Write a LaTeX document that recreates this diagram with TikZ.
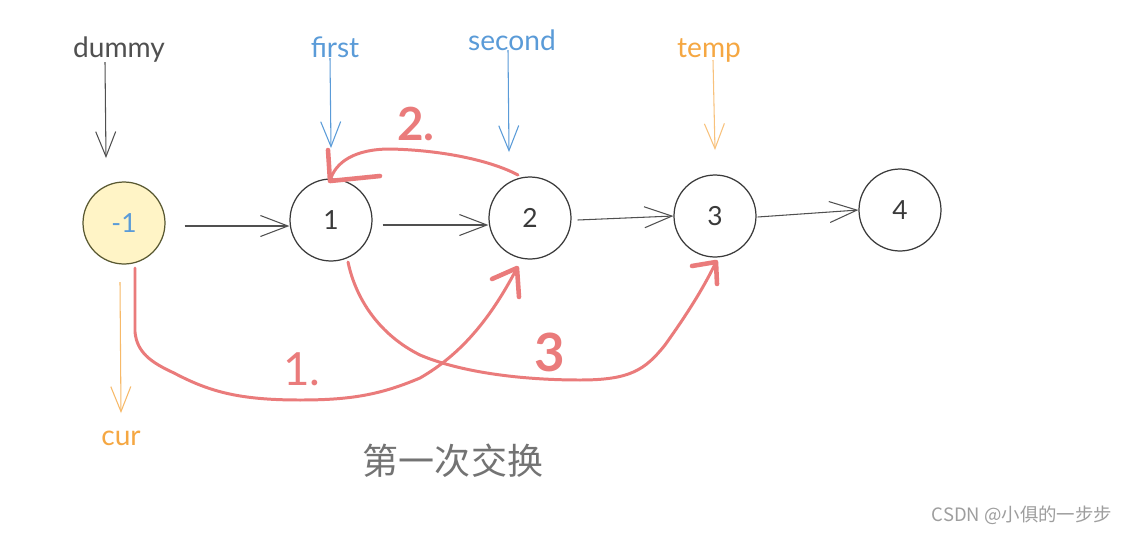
\documentclass[tikz,border=0pt]{standalone}
\usepackage{fontspec}
\setmainfont{Lato}
\newfontfamily\cjk{Noto Sans CJK SC}
\usetikzlibrary{arrows.meta}
\definecolor{nodeline}{HTML}{3A3A3A}
\definecolor{yel}{HTML}{FFF4C6}
\definecolor{blu}{HTML}{5A9BD8}
\definecolor{org}{HTML}{F5A742}
\definecolor{redc}{HTML}{EA7B7B}
\definecolor{dk}{HTML}{505050}
\begin{document}
\begin{tikzpicture}[x=0.02cm,y=-0.02cm,
  circ/.style={circle,draw=nodeline,line width=0.7pt,minimum size=1.64cm,inner sep=0pt,
    font=\fontsize{15}{17}\selectfont,text=nodeline},
  lbl/.style={inner sep=0pt,font=\fontsize{16}{18}\selectfont},
  link/.style={draw=dk,line width=0.6pt,-{Straight Barb[length=0.55cm,width=0.42cm,line width=0.6pt]}},
  ptr/.style={line width=0.6pt,-{Straight Barb[length=0.5cm,width=0.4cm,line width=0.6pt]}},
  redl/.style={draw=redc,line width=1.7pt,line cap=round,line join=round},
  redh/.style={draw=redc,line width=2.6pt,line cap=round,line join=round},
  num/.style={inner sep=0pt,text=redc}]
\useasboundingbox (0,0) rectangle (1134,535);
\fill[white] (0,0) rectangle (1134,535);

% nodes
\node[circ,fill=yel,draw=nodeline!85!yellow,text=blu] (nm1) at (124,223) {-1};
\node[circ] (n1) at (331,220) {1};
\node[circ] (n2) at (530,218) {2};
\node[circ] (n3) at (715,216) {3};
\node[circ] (n4) at (900,210) {4};

% next links
\draw[link] (nm1.east) ++(19,3) coordinate (a0) -- (n1.west|-a0);
\draw[link] (n1.east) ++(10,5) coordinate (a1) -- (n2.west|-a1);
\draw[link] (n2.east) ++(6,2) -- (n3.west);
\draw[link] (n3.east) ++(1,1) -- (n4.west);

% pointer labels
\node[lbl,text=dk] (dummy) at (119,50) {dummy};
\node[lbl,text=blu] (first) at (335,47) {first};
\node[lbl,text=blu] (second) at (512,40) {second};
\node[lbl,text=org] (temp) at (709,50) {temp};
\node[lbl,text=org] (cur) at (121,438) {cur};

\coordinate (dtop) at (105,62);   \coordinate (dend) at (106,158);
\coordinate (ftop) at (330,58);   \coordinate (fend) at (331,148);
\coordinate (stop) at (508,50);   \coordinate (send) at (509,152);
\coordinate (ttop) at (713,60);   \coordinate (tend) at (715,150);
\coordinate (ctop) at (120,282);  \coordinate (cend) at (121,413);
\draw[ptr,draw=dk] (dtop) -- (dend);
\draw[ptr,draw=blu] (ftop) -- (fend);
\draw[ptr,draw=blu] (stop) -- (send);
\draw[ptr,draw=org!70] (ttop) -- (tend);
\draw[ptr,draw=org!80] (ctop) -- (cend);

% red step 1: dummy -> 2
\coordinate (r1s) at (135,268);
\coordinate (r1e) at (517,268);
\draw[redl] (r1s) -- (135,332) .. controls (137,352) and (150,362) .. (174,373)
  .. controls (210,392) and (240,400) .. (300,400)
  .. controls (350,400) and (380,395) .. (420,378)
  .. controls (460,355) and (490,320) .. (r1e);
\draw[redh] (492,279) -- (r1e) -- (519,297);
\node[num,font=\fontsize{26}{28}\selectfont] (l1) at (302,369) {1.};

% red step 2: 2 -> first
\coordinate (r2s) at (518,175);
\coordinate (r2e) at (330,181);
\draw[redl] (r2s) .. controls (490,160) and (440,150) .. (390,149)
  .. controls (355,149) and (335,162) .. (r2e);
\draw[redh] (328,150) -- (r2e) -- (380,176);
\node[num,font=\bfseries\fontsize{26}{28}\selectfont] (l2) at (416,124) {2.};

% red step 3: 1 -> 3
\coordinate (r3s) at (348,262);
\coordinate (r3e) at (716,262);
\draw[redl] (r3s) .. controls (356,300) and (380,335) .. (420,355)
  .. controls (460,372) and (520,380) .. (580,380)
  .. controls (630,380) and (645,370) .. (665,345)
  .. controls (690,310) and (705,285) .. (r3e);
\draw[redh] (692,266) -- (r3e) -- (717,284);
\node[num,font=\bfseries\fontsize{30}{32}\selectfont] (l3) at (550,352) {3};

% title and watermark
\node[inner sep=0pt,text=black!55,font=\cjk\fontsize{20.5}{24}\selectfont] (title) at (453,461) {第一次交换};
\node[inner sep=0pt,text=black!38,font=\cjk\fontsize{10.5}{12}\selectfont] (wm) at (1022,515) {CSDN @小俱的一步步};
\end{tikzpicture}
\end{document}
